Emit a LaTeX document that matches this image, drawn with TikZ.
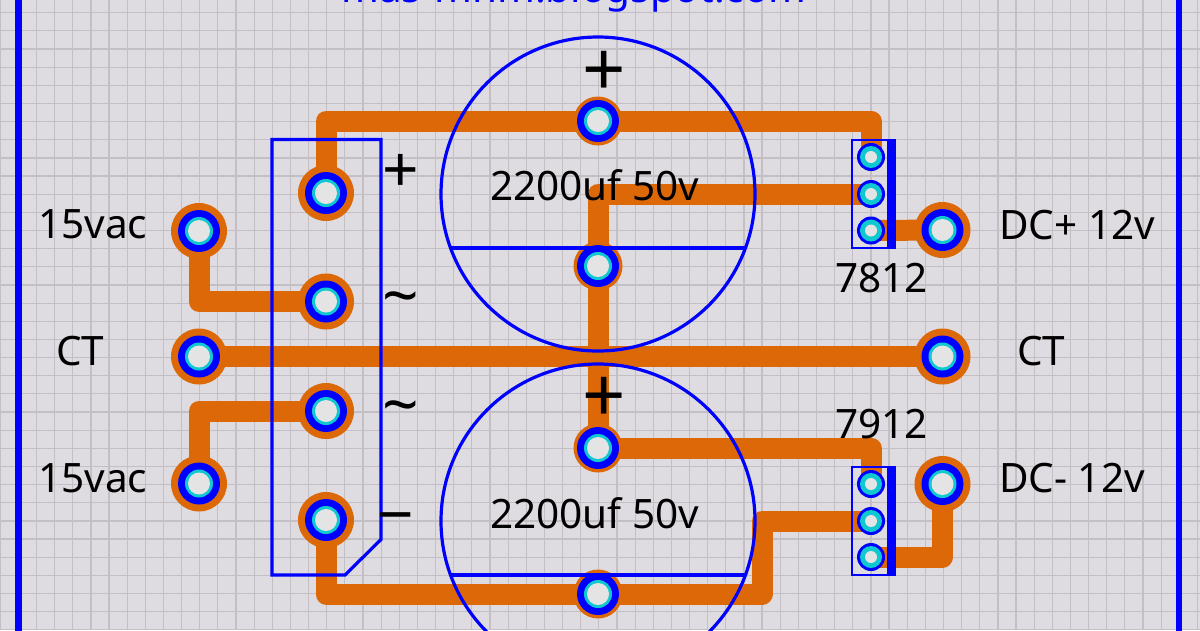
\documentclass[tikz,border=0pt]{standalone}
\usepackage{fontspec}
\setmainfont{Noto Sans}
\definecolor{boardbg}{HTML}{DEDCE0}
\definecolor{gridc}{HTML}{C4BFC4}
\definecolor{copper}{HTML}{DD6808}
\definecolor{ringblue}{HTML}{0000FF}
\definecolor{ringcyan}{HTML}{10C8D0}
\definecolor{holec}{HTML}{E4E4E4}
\tikzset{
  track/.style={draw=copper,line width=21pt,line join=round},
  outline/.style={draw=ringblue,line width=3.2pt},
  thinoutline/.style={draw=ringblue,line width=2pt},
  frameline/.style={draw=ringblue,line width=6.2pt},
  lbl/.style={inner sep=0pt,anchor=base west,text=black,font=\fontsize{40.5}{48}\selectfont},
  sym/.style={inner sep=0pt,anchor=center,text=black},
}
\begin{document}
\begin{tikzpicture}[x=1pt,y=-1pt]
\useasboundingbox (0,0) rectangle (1200,630);
\clip (0,0) rectangle (1200,630);
\fill[boardbg] (0,0) rectangle (1200,630);
\foreach \i in {0,...,66} {\draw[gridc,line width=1.2pt] ({0.2+18.14*\i},0) -- ({0.2+18.14*\i},630);}
\foreach \i in {0,...,34} {\draw[gridc,line width=1.2pt] (0,{12.7+18.15*\i}) -- (1200,{12.7+18.15*\i});}
% pad positions
\coordinate (a1) at (199,231);
\coordinate (a2) at (199,356.5);
\coordinate (a3) at (199,483.5);
\coordinate (r1) at (326,193);
\coordinate (r2) at (326,301.5);
\coordinate (r3) at (326,411);
\coordinate (r4) at (326,520);
\coordinate (b1) at (942.5,230);
\coordinate (b2) at (942.5,356.5);
\coordinate (b3) at (942.5,484);
\coordinate (c1) at (598,121);
\coordinate (c2) at (598,266);
\coordinate (c3) at (598,448);
\coordinate (c4) at (598,594);
\coordinate (u1) at (871,157);
\coordinate (u2) at (871,194);
\coordinate (u3) at (871,230.5);
\coordinate (u4) at (871,484);
\coordinate (u5) at (871,521);
\coordinate (u6) at (871,557);
\coordinate (jog) at (762,521);
% tracks
\draw[track] (r1) |- (c1) -| (u1);
\draw[track] (u2) -| (c2) -- (c3) -| (u4);
\draw[track] (u3) -- (b1);
\draw[track] (a1) |- (r2);
\draw[track] (a2) -- (b2);
\draw[track] (a3) |- (r3);
\draw[track] (r4) |- (c4) -| (jog) -- (u5);
\draw[track] (u6) -| (b3);
% large pads
\foreach \p in {a1,a2,a3,r1,r2,r3,r4,b1,b2,b3} {
  \fill[copper] (\p) circle (28pt);
  \fill[ringblue] (\p) circle (21pt);
  \fill[ringcyan] (\p) circle (14pt);
  \fill[holec] (\p) circle (11pt);
}
% capacitor pads
\foreach \p in {c1,c2,c3,c4} {
  \fill[copper] (\p) circle (24.5pt);
  \fill[ringblue] (\p) circle (21pt);
  \fill[ringcyan] (\p) circle (14pt);
  \fill[holec] (\p) circle (11pt);
}
% regulator pads
\foreach \p in {u1,u2,u3,u4,u5,u6} {
  \fill[ringblue] (\p) circle (14pt);
  \fill[ringcyan] (\p) circle (11pt);
  \fill[holec] (\p) circle (6pt);
}
% outlines
\draw[frameline] (18.5,-5) -- (18.5,635);
\draw[frameline] (1179,-5) -- (1179,635);
\draw[outline] (272,139.5) -- (381,139.5) -- (381,539.5) -- (345,575) -- (272,575) -- cycle;
\draw[outline] (598,194) circle (157pt);
\draw[outline] (450.6,248) -- (745.4,248);
\draw[outline] (598,521) circle (157pt);
\draw[outline] (450.6,575) -- (745.4,575);
\foreach \t/\b in {140/247.5,467/575} {
  \draw[thinoutline] (852,\t) rectangle (894.5,\b);
  \fill[ringblue] (886.5,\t) rectangle (894.5,\b);
}
% text
\node[inner sep=0pt,anchor=base,text=ringblue,font=\fontsize{40.5}{48}\selectfont] (site) at (574,2) {mas-mnm.blogspot.com};
\node[lbl] (t1) at (38,238) {15vac};
\node[lbl] (t2) at (38,492) {15vac};
\node[lbl] (t3) at (56,365) {CT};
\node[lbl] (t4) at (1017,365) {CT};
\node[lbl] (t5) at (999,239) {DC+ 12v};
\node[lbl] (t6) at (999,492) {DC- 12v};
\node[lbl] (t7) at (835,292) {7812};
\node[lbl] (t8) at (835,438) {7912};
\node[lbl] (t9) at (490,200) {2200uf 50v};
\node[lbl] (t10) at (490,528) {2200uf 50v};
\node[sym,font=\fontsize{76}{80}\selectfont] (p1) at (604,74) {+};
\node[sym,font=\fontsize{76}{80}\selectfont] (p2) at (604,400) {+};
\node[sym,font=\fontsize{64}{70}\selectfont] (p3) at (401,173) {+};
\node[sym,font=\fontsize{64}{70}\selectfont] (p4) at (401,305) {\char"007E};
\node[sym,font=\fontsize{64}{70}\selectfont] (p5) at (401,414) {\char"007E};
\node[sym,font=\fontsize{64}{70}\selectfont] (p6) at (396,525) {\char"2212};
\end{tikzpicture}
\end{document}
